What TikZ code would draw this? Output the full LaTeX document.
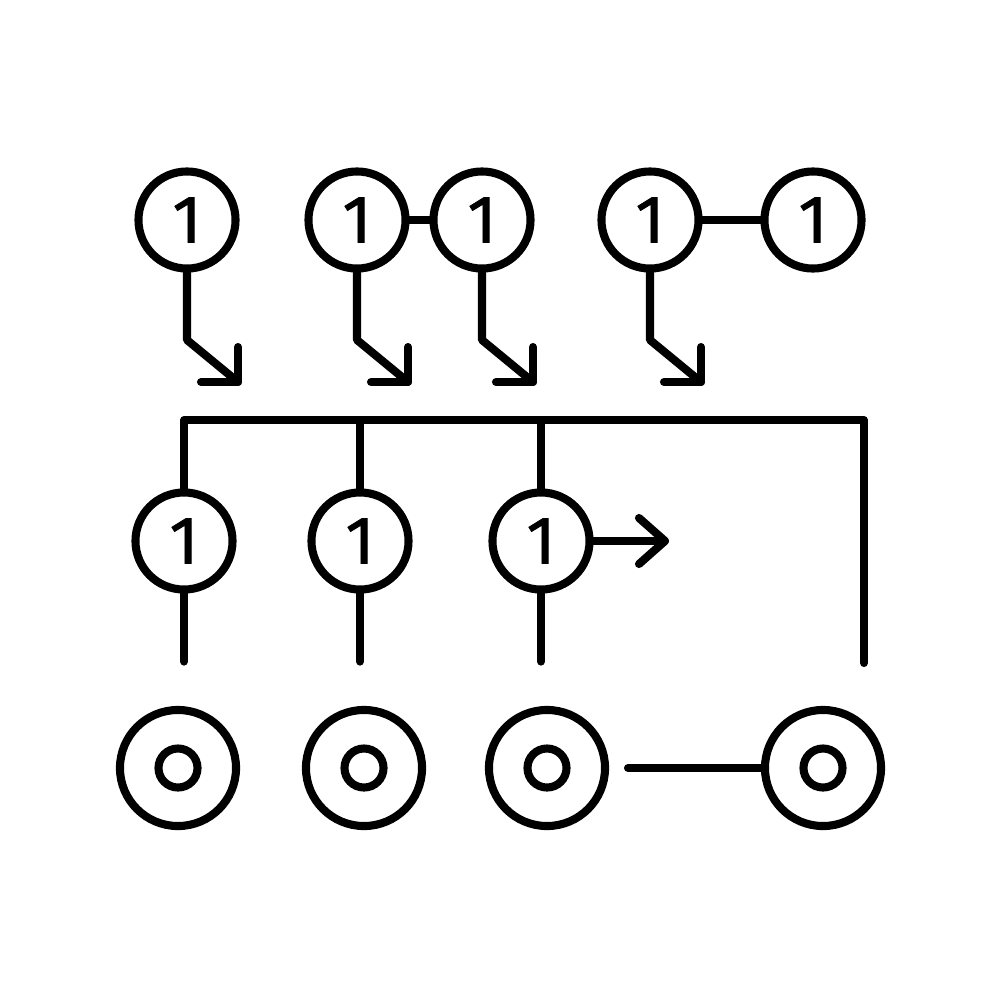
\documentclass[tikz,border=0pt]{standalone}
\usepackage{fontspec}
\setmainfont{Fira Sans}
\newfontfamily\numfont{Fira Sans}[FakeBold=1.2]
\usetikzlibrary{calc}
\begin{document}
\begin{tikzpicture}[x=0.01cm,y=-0.01cm,
  ln/.style={line width=2.3pt, line cap=round, line join=round},
  num/.style={circle, draw, line width=2.3pt, minimum size=0.97cm, inner sep=0pt,
    font=\numfont\fontsize{19}{19}\selectfont},
  ring/.style={circle, draw, line width=2.3pt, minimum size=1.16cm, inner sep=0pt},
  dot/.style={circle, draw, line width=2.3pt, minimum size=0.39cm, inner sep=0pt}]
\useasboundingbox (0,0) rectangle (1000,1000);
% top row
\node[num] (t1) at (187,220) {1};
\node[num] (t2) at (357,220) {1};
\node[num] (t3) at (482,220) {1};
\node[num] (t4) at (650,220) {1};
\node[num] (t5) at (813,220) {1};
\draw[ln] (t2) -- (t3);
\draw[ln] (t4) -- (t5);
% bent arrows
\foreach \n/\x in {1/187,2/357,3/482,4/650}{
  \coordinate (k\n) at (\x,340);
  \coordinate (a\n) at ($(\x,340)+(51,42)$);
  \draw[ln] (t\n.south) -- (k\n) -- (a\n);
  \draw[ln] ($(a\n)+(0,-35)$) -- (a\n) -- ($(a\n)+(-37,0)$);
}
% middle row
\node[num] (m1) at (184,541) {1};
\node[num] (m2) at (360,541) {1};
\node[num] (m3) at (541,541) {1};
\coordinate (busR) at (864,420);
\coordinate (busE) at (864,663);
\draw[ln] (m1.north) -- (m1.north |- busR) -- (busR) -- (busE);
\draw[ln] (m2.north) -- (m2.north |- busR);
\draw[ln] (m3.north) -- (m3.north |- busR);
\foreach \n in {1,2,3}{
  \coordinate (e\n) at ($(m\n.south)+(0,68)$);
  \draw[ln] (m\n.south) -- (e\n);
}
\coordinate (r3) at (665,541);
\draw[ln] (m3.east) -- (r3);
\draw[ln] ($(r3)+(-26,-23)$) -- (r3) -- ($(r3)+(-26,23)$);
% bottom row
\foreach \n/\x in {1/178,2/364,3/547,4/823}{
  \node[ring] (b\n) at (\x,768) {};
  \node[dot] (c\n) at (\x,768) {};
}
\coordinate (l4) at (628,768);
\draw[ln] (l4) -- (b4.west);
\end{tikzpicture}
\end{document}
